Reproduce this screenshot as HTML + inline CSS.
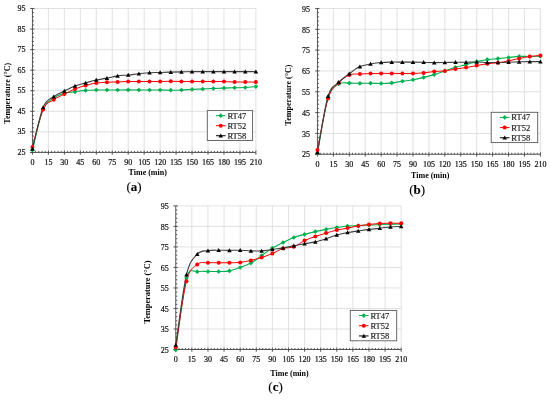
<!DOCTYPE html>
<html><head><meta charset="utf-8"><style>
html,body{margin:0;padding:0;background:#fff;}
svg{display:block;}
.tl{font-family:"Liberation Serif",serif;font-size:8px;fill:#111;stroke:#111;stroke-width:0.2px;}
.tt{font-family:"Liberation Serif",serif;font-size:8px;font-weight:bold;fill:#000;}
.lg{font-family:"Liberation Serif",serif;font-size:8.5px;fill:#1a1a1a;stroke:#1a1a1a;stroke-width:0.15px;}
.cap{font-family:"Liberation Serif",serif;font-size:13px;fill:#000;stroke:#000;stroke-width:0.1px;}
</style></head><body>
<svg width="550" height="400" viewBox="0 0 550 400">
<rect width="550" height="400" fill="#fff"/>
<path d="M32.45,131.87H255.90 M32.45,111.31H255.90 M32.45,90.74H255.90 M32.45,70.17H255.90 M32.45,49.60H255.90 M32.45,29.04H255.90 M32.45,8.47H255.90 M48.41,8.47V152.44 M64.37,8.47V152.44 M80.33,8.47V152.44 M96.29,8.47V152.44 M112.25,8.47V152.44 M128.21,8.47V152.44 M144.17,8.47V152.44 M160.14,8.47V152.44 M176.10,8.47V152.44 M192.06,8.47V152.44 M208.02,8.47V152.44 M223.98,8.47V152.44 M239.94,8.47V152.44 M255.90,8.47V152.44" stroke="#d9d9d9" stroke-width="0.8" fill="none"/>
<path d="M32.45,8.47V152.44 M30.15,152.44H255.90 M30.15,152.44H34.45 M30.15,131.87H34.45 M30.15,111.31H34.45 M30.15,90.74H34.45 M30.15,70.17H34.45 M30.15,49.60H34.45 M30.15,29.04H34.45 M30.15,8.47H34.45 M32.45,148.33H33.95 M32.45,144.21H33.95 M32.45,140.10H33.95 M32.45,135.99H33.95 M32.45,127.76H33.95 M32.45,123.65H33.95 M32.45,119.53H33.95 M32.45,115.42H33.95 M32.45,107.19H33.95 M32.45,103.08H33.95 M32.45,98.97H33.95 M32.45,94.85H33.95 M32.45,86.63H33.95 M32.45,82.51H33.95 M32.45,78.40H33.95 M32.45,74.28H33.95 M32.45,66.06H33.95 M32.45,61.94H33.95 M32.45,57.83H33.95 M32.45,53.72H33.95 M32.45,45.49H33.95 M32.45,41.38H33.95 M32.45,37.26H33.95 M32.45,33.15H33.95 M32.45,24.92H33.95 M32.45,20.81H33.95 M32.45,16.70H33.95 M32.45,12.58H33.95 M32.45,150.44V154.74 M48.41,150.44V154.74 M64.37,150.44V154.74 M80.33,150.44V154.74 M96.29,150.44V154.74 M112.25,150.44V154.74 M128.21,150.44V154.74 M144.17,150.44V154.74 M160.14,150.44V154.74 M176.10,150.44V154.74 M192.06,150.44V154.74 M208.02,150.44V154.74 M223.98,150.44V154.74 M239.94,150.44V154.74 M255.90,150.44V154.74 M35.64,152.44V150.94 M38.83,152.44V150.94 M42.03,152.44V150.94 M45.22,152.44V150.94 M51.60,152.44V150.94 M54.80,152.44V150.94 M57.99,152.44V150.94 M61.18,152.44V150.94 M67.56,152.44V150.94 M70.76,152.44V150.94 M73.95,152.44V150.94 M77.14,152.44V150.94 M83.52,152.44V150.94 M86.72,152.44V150.94 M89.91,152.44V150.94 M93.10,152.44V150.94 M99.48,152.44V150.94 M102.68,152.44V150.94 M105.87,152.44V150.94 M109.06,152.44V150.94 M115.45,152.44V150.94 M118.64,152.44V150.94 M121.83,152.44V150.94 M125.02,152.44V150.94 M131.41,152.44V150.94 M134.60,152.44V150.94 M137.79,152.44V150.94 M140.98,152.44V150.94 M147.37,152.44V150.94 M150.56,152.44V150.94 M153.75,152.44V150.94 M156.94,152.44V150.94 M163.33,152.44V150.94 M166.52,152.44V150.94 M169.71,152.44V150.94 M172.90,152.44V150.94 M179.29,152.44V150.94 M182.48,152.44V150.94 M185.67,152.44V150.94 M188.87,152.44V150.94 M195.25,152.44V150.94 M198.44,152.44V150.94 M201.63,152.44V150.94 M204.83,152.44V150.94 M211.21,152.44V150.94 M214.40,152.44V150.94 M217.59,152.44V150.94 M220.79,152.44V150.94 M227.17,152.44V150.94 M230.36,152.44V150.94 M233.55,152.44V150.94 M236.75,152.44V150.94 M243.13,152.44V150.94 M246.32,152.44V150.94 M249.52,152.44V150.94 M252.71,152.44V150.94" stroke="#454545" stroke-width="0.9" fill="none"/>
<text x="25.55" y="154.94" class="tl" text-anchor="end">25</text>
<text x="25.55" y="134.37" class="tl" text-anchor="end">35</text>
<text x="25.55" y="113.81" class="tl" text-anchor="end">45</text>
<text x="25.55" y="93.24" class="tl" text-anchor="end">55</text>
<text x="25.55" y="72.67" class="tl" text-anchor="end">65</text>
<text x="25.55" y="52.10" class="tl" text-anchor="end">75</text>
<text x="25.55" y="31.54" class="tl" text-anchor="end">85</text>
<text x="25.55" y="10.97" class="tl" text-anchor="end">95</text>
<text x="32.45" y="165.24" class="tl" text-anchor="middle">0</text>
<text x="48.41" y="165.24" class="tl" text-anchor="middle">15</text>
<text x="64.37" y="165.24" class="tl" text-anchor="middle">30</text>
<text x="80.33" y="165.24" class="tl" text-anchor="middle">45</text>
<text x="96.29" y="165.24" class="tl" text-anchor="middle">60</text>
<text x="112.25" y="165.24" class="tl" text-anchor="middle">75</text>
<text x="128.21" y="165.24" class="tl" text-anchor="middle">90</text>
<text x="144.17" y="165.24" class="tl" text-anchor="middle">105</text>
<text x="160.14" y="165.24" class="tl" text-anchor="middle">120</text>
<text x="176.10" y="165.24" class="tl" text-anchor="middle">135</text>
<text x="192.06" y="165.24" class="tl" text-anchor="middle">150</text>
<text x="208.02" y="165.24" class="tl" text-anchor="middle">165</text>
<text x="223.98" y="165.24" class="tl" text-anchor="middle">180</text>
<text x="239.94" y="165.24" class="tl" text-anchor="middle">195</text>
<text x="255.90" y="165.24" class="tl" text-anchor="middle">210</text>
<text class="tt" text-anchor="middle" transform="translate(7.60,93.30) rotate(-90)" y="2.8" style="font-size:8px">Temperature (&#176;C)</text>
<text class="tt" text-anchor="middle" x="147.70" y="175.20">Time (min)</text>
<text class="cap" text-anchor="middle" x="134.00" y="190.80">(<tspan font-weight="bold">a</tspan>)</text>
<path d="M32.45,150.00 C34.22,143.23 39.54,118.07 43.09,109.40 C46.64,100.73 50.18,100.70 53.73,98.00 C57.28,95.30 60.82,94.23 64.37,93.20 C67.92,92.17 71.47,92.27 75.01,91.80 C78.56,91.33 82.11,90.70 85.65,90.40 C89.20,90.10 92.75,90.07 96.29,90.00 C99.84,89.93 103.39,90.00 106.93,90.00 C110.48,90.00 114.03,90.02 117.57,90.00 C121.12,89.98 124.67,89.90 128.21,89.90 C131.76,89.90 135.31,89.98 138.85,90.00 C142.40,90.02 145.95,90.00 149.50,90.00 C153.04,90.00 156.59,89.97 160.14,90.00 C163.68,90.03 167.23,90.20 170.78,90.20 C174.32,90.20 177.87,90.13 181.42,90.00 C184.96,89.87 188.51,89.57 192.06,89.40 C195.60,89.23 199.15,89.15 202.70,89.00 C206.24,88.85 209.79,88.65 213.34,88.50 C216.88,88.35 220.43,88.22 223.98,88.10 C227.53,87.97 231.07,87.85 234.62,87.75 C238.17,87.65 241.71,87.69 245.26,87.50 C248.81,87.31 254.13,86.75 255.90,86.60" stroke="#00b050" stroke-width="1.1" fill="none"/>
<path d="M32.45,147.10 C34.22,140.85 39.54,117.48 43.09,109.60 C46.64,101.72 50.18,102.38 53.73,99.80 C57.28,97.22 60.82,95.90 64.37,94.10 C67.92,92.30 71.47,90.45 75.01,89.00 C78.56,87.55 82.11,86.38 85.65,85.40 C89.20,84.42 92.75,83.62 96.29,83.10 C99.84,82.57 103.39,82.45 106.93,82.25 C110.48,82.05 114.03,82.03 117.57,81.90 C121.12,81.78 124.67,81.57 128.21,81.50 C131.76,81.43 135.31,81.50 138.85,81.50 C142.40,81.50 145.95,81.50 149.50,81.50 C153.04,81.50 156.59,81.54 160.14,81.50 C163.68,81.46 167.23,81.25 170.78,81.25 C174.32,81.25 177.87,81.44 181.42,81.50 C184.96,81.56 188.51,81.60 192.06,81.60 C195.60,81.60 199.15,81.52 202.70,81.50 C206.24,81.48 209.79,81.48 213.34,81.50 C216.88,81.52 220.43,81.52 223.98,81.60 C227.53,81.68 231.07,81.93 234.62,82.00 C238.17,82.07 241.71,81.98 245.26,82.00 C248.81,82.02 254.13,82.08 255.90,82.10" stroke="#ff0000" stroke-width="1" fill="none"/>
<path d="M32.45,148.90 C34.22,142.00 39.54,116.22 43.09,107.50 C46.64,98.78 50.18,99.35 53.73,96.60 C57.28,93.85 60.82,92.77 64.37,91.00 C67.92,89.23 71.47,87.35 75.01,86.00 C78.56,84.65 82.11,83.90 85.65,82.90 C89.20,81.90 92.75,80.80 96.29,80.00 C99.84,79.20 103.39,78.78 106.93,78.10 C110.48,77.42 114.03,76.42 117.57,75.90 C121.12,75.38 124.67,75.36 128.21,75.00 C131.76,74.64 135.31,74.12 138.85,73.75 C142.40,73.38 145.95,72.96 149.50,72.75 C153.04,72.54 156.59,72.61 160.14,72.50 C163.68,72.39 167.23,72.20 170.78,72.10 C174.32,72.00 177.87,71.98 181.42,71.90 C184.96,71.82 188.51,71.65 192.06,71.60 C195.60,71.55 199.15,71.60 202.70,71.60 C206.24,71.60 209.79,71.60 213.34,71.60 C216.88,71.60 220.43,71.60 223.98,71.60 C227.53,71.60 231.07,71.60 234.62,71.60 C238.17,71.60 241.71,71.60 245.26,71.60 C248.81,71.60 254.13,71.60 255.90,71.60" stroke="#404040" stroke-width="1.1" fill="none"/>
<path d="M32.45,147.65l2.35,2.35l-2.35,2.35l-2.35,-2.35z" fill="#00b050"/><path d="M43.09,107.05l2.35,2.35l-2.35,2.35l-2.35,-2.35z" fill="#00b050"/><path d="M53.73,95.65l2.35,2.35l-2.35,2.35l-2.35,-2.35z" fill="#00b050"/><path d="M64.37,90.85l2.35,2.35l-2.35,2.35l-2.35,-2.35z" fill="#00b050"/><path d="M75.01,89.45l2.35,2.35l-2.35,2.35l-2.35,-2.35z" fill="#00b050"/><path d="M85.65,88.05l2.35,2.35l-2.35,2.35l-2.35,-2.35z" fill="#00b050"/><path d="M96.29,87.65l2.35,2.35l-2.35,2.35l-2.35,-2.35z" fill="#00b050"/><path d="M106.93,87.65l2.35,2.35l-2.35,2.35l-2.35,-2.35z" fill="#00b050"/><path d="M117.57,87.65l2.35,2.35l-2.35,2.35l-2.35,-2.35z" fill="#00b050"/><path d="M128.21,87.55l2.35,2.35l-2.35,2.35l-2.35,-2.35z" fill="#00b050"/><path d="M138.85,87.65l2.35,2.35l-2.35,2.35l-2.35,-2.35z" fill="#00b050"/><path d="M149.50,87.65l2.35,2.35l-2.35,2.35l-2.35,-2.35z" fill="#00b050"/><path d="M160.14,87.65l2.35,2.35l-2.35,2.35l-2.35,-2.35z" fill="#00b050"/><path d="M170.78,87.85l2.35,2.35l-2.35,2.35l-2.35,-2.35z" fill="#00b050"/><path d="M181.42,87.65l2.35,2.35l-2.35,2.35l-2.35,-2.35z" fill="#00b050"/><path d="M192.06,87.05l2.35,2.35l-2.35,2.35l-2.35,-2.35z" fill="#00b050"/><path d="M202.70,86.65l2.35,2.35l-2.35,2.35l-2.35,-2.35z" fill="#00b050"/><path d="M213.34,86.15l2.35,2.35l-2.35,2.35l-2.35,-2.35z" fill="#00b050"/><path d="M223.98,85.75l2.35,2.35l-2.35,2.35l-2.35,-2.35z" fill="#00b050"/><path d="M234.62,85.40l2.35,2.35l-2.35,2.35l-2.35,-2.35z" fill="#00b050"/><path d="M245.26,85.15l2.35,2.35l-2.35,2.35l-2.35,-2.35z" fill="#00b050"/><path d="M255.90,84.25l2.35,2.35l-2.35,2.35l-2.35,-2.35z" fill="#00b050"/>
<circle cx="32.45" cy="147.10" r="2.0" fill="#ff0000"/><circle cx="43.09" cy="109.60" r="2.0" fill="#ff0000"/><circle cx="53.73" cy="99.80" r="2.0" fill="#ff0000"/><circle cx="64.37" cy="94.10" r="2.0" fill="#ff0000"/><circle cx="75.01" cy="89.00" r="2.0" fill="#ff0000"/><circle cx="85.65" cy="85.40" r="2.0" fill="#ff0000"/><circle cx="96.29" cy="83.10" r="2.0" fill="#ff0000"/><circle cx="106.93" cy="82.25" r="2.0" fill="#ff0000"/><circle cx="117.57" cy="81.90" r="2.0" fill="#ff0000"/><circle cx="128.21" cy="81.50" r="2.0" fill="#ff0000"/><circle cx="138.85" cy="81.50" r="2.0" fill="#ff0000"/><circle cx="149.50" cy="81.50" r="2.0" fill="#ff0000"/><circle cx="160.14" cy="81.50" r="2.0" fill="#ff0000"/><circle cx="170.78" cy="81.25" r="2.0" fill="#ff0000"/><circle cx="181.42" cy="81.50" r="2.0" fill="#ff0000"/><circle cx="192.06" cy="81.60" r="2.0" fill="#ff0000"/><circle cx="202.70" cy="81.50" r="2.0" fill="#ff0000"/><circle cx="213.34" cy="81.50" r="2.0" fill="#ff0000"/><circle cx="223.98" cy="81.60" r="2.0" fill="#ff0000"/><circle cx="234.62" cy="82.00" r="2.0" fill="#ff0000"/><circle cx="245.26" cy="82.00" r="2.0" fill="#ff0000"/><circle cx="255.90" cy="82.10" r="2.0" fill="#ff0000"/>
<path d="M32.45,146.70L34.70,150.70L30.20,150.70z" fill="#000"/><path d="M43.09,105.30L45.34,109.30L40.84,109.30z" fill="#000"/><path d="M53.73,94.40L55.98,98.40L51.48,98.40z" fill="#000"/><path d="M64.37,88.80L66.62,92.80L62.12,92.80z" fill="#000"/><path d="M75.01,83.80L77.26,87.80L72.76,87.80z" fill="#000"/><path d="M85.65,80.70L87.90,84.70L83.40,84.70z" fill="#000"/><path d="M96.29,77.80L98.54,81.80L94.04,81.80z" fill="#000"/><path d="M106.93,75.90L109.18,79.90L104.68,79.90z" fill="#000"/><path d="M117.57,73.70L119.82,77.70L115.32,77.70z" fill="#000"/><path d="M128.21,72.80L130.46,76.80L125.96,76.80z" fill="#000"/><path d="M138.85,71.55L141.10,75.55L136.60,75.55z" fill="#000"/><path d="M149.50,70.55L151.75,74.55L147.25,74.55z" fill="#000"/><path d="M160.14,70.30L162.39,74.30L157.89,74.30z" fill="#000"/><path d="M170.78,69.90L173.03,73.90L168.53,73.90z" fill="#000"/><path d="M181.42,69.70L183.67,73.70L179.17,73.70z" fill="#000"/><path d="M192.06,69.40L194.31,73.40L189.81,73.40z" fill="#000"/><path d="M202.70,69.40L204.95,73.40L200.45,73.40z" fill="#000"/><path d="M213.34,69.40L215.59,73.40L211.09,73.40z" fill="#000"/><path d="M223.98,69.40L226.23,73.40L221.73,73.40z" fill="#000"/><path d="M234.62,69.40L236.87,73.40L232.37,73.40z" fill="#000"/><path d="M245.26,69.40L247.51,73.40L243.01,73.40z" fill="#000"/><path d="M255.90,69.40L258.15,73.40L253.65,73.40z" fill="#000"/>
<rect x="207.30" y="110.60" width="45.30" height="29.90" fill="#fff" stroke="#595959" stroke-width="0.9"/>
<path d="M216.00,115.68H225.60" stroke="#00b050" stroke-width="1"/>
<path d="M220.80,113.33l2.35,2.35l-2.35,2.35l-2.35,-2.35z" fill="#00b050"/>
<text class="lg" x="227.40" y="118.68">RT47</text>
<path d="M216.00,125.70H225.60" stroke="#ff0000" stroke-width="1"/>
<circle cx="220.80" cy="125.70" r="2.0" fill="#ff0000"/>
<text class="lg" x="227.40" y="128.70">RT52</text>
<path d="M216.00,135.72H225.60" stroke="#000000" stroke-width="1"/>
<path d="M220.80,133.52L223.05,137.52L218.55,137.52z" fill="#000"/>
<text class="lg" x="227.40" y="138.72">RT58</text>
<path d="M317.45,133.44H540.40 M317.45,112.61H540.40 M317.45,91.78H540.40 M317.45,70.96H540.40 M317.45,50.13H540.40 M317.45,29.30H540.40 M317.45,8.47H540.40 M333.38,8.47V154.27 M349.30,8.47V154.27 M365.22,8.47V154.27 M381.15,8.47V154.27 M397.07,8.47V154.27 M413.00,8.47V154.27 M428.92,8.47V154.27 M444.85,8.47V154.27 M460.77,8.47V154.27 M476.70,8.47V154.27 M492.62,8.47V154.27 M508.55,8.47V154.27 M524.47,8.47V154.27 M540.40,8.47V154.27" stroke="#d9d9d9" stroke-width="0.8" fill="none"/>
<path d="M317.45,8.47V154.27 M315.15,154.27H540.40 M315.15,154.27H319.45 M315.15,133.44H319.45 M315.15,112.61H319.45 M315.15,91.78H319.45 M315.15,70.96H319.45 M315.15,50.13H319.45 M315.15,29.30H319.45 M315.15,8.47H319.45 M317.45,150.10H318.95 M317.45,145.94H318.95 M317.45,141.77H318.95 M317.45,137.61H318.95 M317.45,129.28H318.95 M317.45,125.11H318.95 M317.45,120.94H318.95 M317.45,116.78H318.95 M317.45,108.45H318.95 M317.45,104.28H318.95 M317.45,100.12H318.95 M317.45,95.95H318.95 M317.45,87.62H318.95 M317.45,83.45H318.95 M317.45,79.29H318.95 M317.45,75.12H318.95 M317.45,66.79H318.95 M317.45,62.62H318.95 M317.45,58.46H318.95 M317.45,54.29H318.95 M317.45,45.96H318.95 M317.45,41.80H318.95 M317.45,37.63H318.95 M317.45,33.46H318.95 M317.45,25.13H318.95 M317.45,20.97H318.95 M317.45,16.80H318.95 M317.45,12.64H318.95 M317.45,152.27V156.57 M333.38,152.27V156.57 M349.30,152.27V156.57 M365.22,152.27V156.57 M381.15,152.27V156.57 M397.07,152.27V156.57 M413.00,152.27V156.57 M428.92,152.27V156.57 M444.85,152.27V156.57 M460.77,152.27V156.57 M476.70,152.27V156.57 M492.62,152.27V156.57 M508.55,152.27V156.57 M524.47,152.27V156.57 M540.40,152.27V156.57 M320.63,154.27V152.77 M323.82,154.27V152.77 M327.00,154.27V152.77 M330.19,154.27V152.77 M336.56,154.27V152.77 M339.75,154.27V152.77 M342.93,154.27V152.77 M346.12,154.27V152.77 M352.49,154.27V152.77 M355.67,154.27V152.77 M358.85,154.27V152.77 M362.04,154.27V152.77 M368.41,154.27V152.77 M371.59,154.27V152.77 M374.78,154.27V152.77 M377.96,154.27V152.77 M384.33,154.27V152.77 M387.52,154.27V152.77 M390.70,154.27V152.77 M393.89,154.27V152.77 M400.26,154.27V152.77 M403.44,154.27V152.77 M406.63,154.27V152.77 M409.81,154.27V152.77 M416.18,154.27V152.77 M419.37,154.27V152.77 M422.55,154.27V152.77 M425.74,154.27V152.77 M432.11,154.27V152.77 M435.29,154.27V152.77 M438.48,154.27V152.77 M441.66,154.27V152.77 M448.03,154.27V152.77 M451.22,154.27V152.77 M454.40,154.27V152.77 M457.59,154.27V152.77 M463.96,154.27V152.77 M467.14,154.27V152.77 M470.33,154.27V152.77 M473.51,154.27V152.77 M479.88,154.27V152.77 M483.07,154.27V152.77 M486.25,154.27V152.77 M489.44,154.27V152.77 M495.81,154.27V152.77 M499.00,154.27V152.77 M502.18,154.27V152.77 M505.36,154.27V152.77 M511.73,154.27V152.77 M514.92,154.27V152.77 M518.11,154.27V152.77 M521.29,154.27V152.77 M527.66,154.27V152.77 M530.85,154.27V152.77 M534.03,154.27V152.77 M537.21,154.27V152.77" stroke="#454545" stroke-width="0.9" fill="none"/>
<text x="310.05" y="157.47" class="tl" text-anchor="end">25</text>
<text x="310.05" y="136.64" class="tl" text-anchor="end">35</text>
<text x="310.05" y="115.81" class="tl" text-anchor="end">45</text>
<text x="310.05" y="94.98" class="tl" text-anchor="end">55</text>
<text x="310.05" y="74.16" class="tl" text-anchor="end">65</text>
<text x="310.05" y="53.33" class="tl" text-anchor="end">75</text>
<text x="310.05" y="32.50" class="tl" text-anchor="end">85</text>
<text x="310.05" y="11.67" class="tl" text-anchor="end">95</text>
<text x="317.45" y="167.07" class="tl" text-anchor="middle">0</text>
<text x="333.38" y="167.07" class="tl" text-anchor="middle">15</text>
<text x="349.30" y="167.07" class="tl" text-anchor="middle">30</text>
<text x="365.22" y="167.07" class="tl" text-anchor="middle">45</text>
<text x="381.15" y="167.07" class="tl" text-anchor="middle">60</text>
<text x="397.07" y="167.07" class="tl" text-anchor="middle">75</text>
<text x="413.00" y="167.07" class="tl" text-anchor="middle">90</text>
<text x="428.92" y="167.07" class="tl" text-anchor="middle">105</text>
<text x="444.85" y="167.07" class="tl" text-anchor="middle">120</text>
<text x="460.77" y="167.07" class="tl" text-anchor="middle">135</text>
<text x="476.70" y="167.07" class="tl" text-anchor="middle">150</text>
<text x="492.62" y="167.07" class="tl" text-anchor="middle">165</text>
<text x="508.55" y="167.07" class="tl" text-anchor="middle">180</text>
<text x="524.47" y="167.07" class="tl" text-anchor="middle">195</text>
<text x="540.40" y="167.07" class="tl" text-anchor="middle">210</text>
<text class="tt" text-anchor="middle" transform="translate(288.40,95.00) rotate(-90)" y="2.8" style="font-size:8px">Temperature (&#176;C)</text>
<text class="tt" text-anchor="middle" x="430.20" y="177.60">Time (min)</text>
<text class="cap" text-anchor="middle" x="417.20" y="194.40">(<tspan font-weight="bold">b</tspan>)</text>
<path d="M317.45,153.00 C319.22,143.75 324.53,109.00 328.07,97.50 C331.61,86.00 335.14,86.40 338.68,84.00 C342.22,81.60 345.76,83.20 349.30,83.10 C352.84,83.00 356.38,83.38 359.92,83.40 C363.46,83.42 366.99,83.18 370.53,83.20 C374.07,83.22 377.61,83.55 381.15,83.50 C384.69,83.45 388.23,83.28 391.77,82.90 C395.31,82.53 398.84,81.78 402.38,81.25 C405.92,80.72 409.46,80.39 413.00,79.75 C416.54,79.11 420.08,78.26 423.62,77.40 C427.16,76.54 430.69,75.68 434.23,74.60 C437.77,73.52 441.31,72.12 444.85,70.90 C448.39,69.68 451.93,68.30 455.47,67.25 C459.01,66.20 462.54,65.54 466.08,64.60 C469.62,63.66 473.16,62.43 476.70,61.60 C480.24,60.77 483.78,60.10 487.32,59.60 C490.86,59.10 494.39,58.95 497.93,58.60 C501.47,58.25 505.01,57.87 508.55,57.50 C512.09,57.13 515.63,56.57 519.17,56.40 C522.71,56.23 526.24,56.52 529.78,56.50 C533.32,56.48 538.63,56.29 540.40,56.25" stroke="#00b050" stroke-width="1.1" fill="none"/>
<path d="M317.45,150.10 C319.22,141.50 324.53,109.67 328.07,98.50 C331.61,87.33 335.14,87.02 338.68,83.10 C342.22,79.18 345.76,76.52 349.30,75.00 C352.84,73.48 356.38,74.23 359.92,74.00 C363.46,73.77 366.99,73.70 370.53,73.60 C374.07,73.50 377.61,73.43 381.15,73.40 C384.69,73.37 388.23,73.38 391.77,73.40 C395.31,73.42 398.84,73.50 402.38,73.50 C405.92,73.50 409.46,73.50 413.00,73.40 C416.54,73.30 420.08,73.22 423.62,72.90 C427.16,72.58 430.69,71.83 434.23,71.50 C437.77,71.17 441.31,71.32 444.85,70.90 C448.39,70.48 451.93,69.55 455.47,69.00 C459.01,68.45 462.54,68.17 466.08,67.60 C469.62,67.03 473.16,66.25 476.70,65.60 C480.24,64.95 483.78,64.17 487.32,63.70 C490.86,63.23 494.39,63.27 497.93,62.80 C501.47,62.33 505.01,61.62 508.55,60.90 C512.09,60.18 515.63,59.23 519.17,58.50 C522.71,57.77 526.24,57.02 529.78,56.50 C533.32,55.98 538.63,55.58 540.40,55.40" stroke="#ff0000" stroke-width="1" fill="none"/>
<path d="M317.45,152.50 C319.22,143.12 324.53,107.96 328.07,96.25 C331.61,84.54 335.14,86.00 338.68,82.25 C342.22,78.50 345.76,76.36 349.30,73.75 C352.84,71.14 356.38,68.22 359.92,66.60 C363.46,64.97 366.99,64.68 370.53,64.00 C374.07,63.32 377.61,62.82 381.15,62.50 C384.69,62.18 388.23,62.17 391.77,62.10 C395.31,62.03 398.84,62.10 402.38,62.10 C405.92,62.10 409.46,62.07 413.00,62.10 C416.54,62.13 420.08,62.22 423.62,62.30 C427.16,62.38 430.69,62.57 434.23,62.60 C437.77,62.63 441.31,62.55 444.85,62.50 C448.39,62.45 451.93,62.35 455.47,62.30 C459.01,62.25 462.54,62.25 466.08,62.20 C469.62,62.15 473.16,61.95 476.70,62.00 C480.24,62.05 483.78,62.42 487.32,62.50 C490.86,62.58 494.39,62.54 497.93,62.50 C501.47,62.46 505.01,62.35 508.55,62.25 C512.09,62.15 515.63,62.01 519.17,61.90 C522.71,61.79 526.24,61.65 529.78,61.60 C533.32,61.55 538.63,61.60 540.40,61.60" stroke="#404040" stroke-width="1.1" fill="none"/>
<path d="M317.45,150.65l2.35,2.35l-2.35,2.35l-2.35,-2.35z" fill="#00b050"/><path d="M328.07,95.15l2.35,2.35l-2.35,2.35l-2.35,-2.35z" fill="#00b050"/><path d="M338.68,81.65l2.35,2.35l-2.35,2.35l-2.35,-2.35z" fill="#00b050"/><path d="M349.30,80.75l2.35,2.35l-2.35,2.35l-2.35,-2.35z" fill="#00b050"/><path d="M359.92,81.05l2.35,2.35l-2.35,2.35l-2.35,-2.35z" fill="#00b050"/><path d="M370.53,80.85l2.35,2.35l-2.35,2.35l-2.35,-2.35z" fill="#00b050"/><path d="M381.15,81.15l2.35,2.35l-2.35,2.35l-2.35,-2.35z" fill="#00b050"/><path d="M391.77,80.55l2.35,2.35l-2.35,2.35l-2.35,-2.35z" fill="#00b050"/><path d="M402.38,78.90l2.35,2.35l-2.35,2.35l-2.35,-2.35z" fill="#00b050"/><path d="M413.00,77.40l2.35,2.35l-2.35,2.35l-2.35,-2.35z" fill="#00b050"/><path d="M423.62,75.05l2.35,2.35l-2.35,2.35l-2.35,-2.35z" fill="#00b050"/><path d="M434.23,72.25l2.35,2.35l-2.35,2.35l-2.35,-2.35z" fill="#00b050"/><path d="M444.85,68.55l2.35,2.35l-2.35,2.35l-2.35,-2.35z" fill="#00b050"/><path d="M455.47,64.90l2.35,2.35l-2.35,2.35l-2.35,-2.35z" fill="#00b050"/><path d="M466.08,62.25l2.35,2.35l-2.35,2.35l-2.35,-2.35z" fill="#00b050"/><path d="M476.70,59.25l2.35,2.35l-2.35,2.35l-2.35,-2.35z" fill="#00b050"/><path d="M487.32,57.25l2.35,2.35l-2.35,2.35l-2.35,-2.35z" fill="#00b050"/><path d="M497.93,56.25l2.35,2.35l-2.35,2.35l-2.35,-2.35z" fill="#00b050"/><path d="M508.55,55.15l2.35,2.35l-2.35,2.35l-2.35,-2.35z" fill="#00b050"/><path d="M519.17,54.05l2.35,2.35l-2.35,2.35l-2.35,-2.35z" fill="#00b050"/><path d="M529.78,54.15l2.35,2.35l-2.35,2.35l-2.35,-2.35z" fill="#00b050"/><path d="M540.40,53.90l2.35,2.35l-2.35,2.35l-2.35,-2.35z" fill="#00b050"/>
<circle cx="317.45" cy="150.10" r="2.0" fill="#ff0000"/><circle cx="328.07" cy="98.50" r="2.0" fill="#ff0000"/><circle cx="338.68" cy="83.10" r="2.0" fill="#ff0000"/><circle cx="349.30" cy="75.00" r="2.0" fill="#ff0000"/><circle cx="359.92" cy="74.00" r="2.0" fill="#ff0000"/><circle cx="370.53" cy="73.60" r="2.0" fill="#ff0000"/><circle cx="381.15" cy="73.40" r="2.0" fill="#ff0000"/><circle cx="391.77" cy="73.40" r="2.0" fill="#ff0000"/><circle cx="402.38" cy="73.50" r="2.0" fill="#ff0000"/><circle cx="413.00" cy="73.40" r="2.0" fill="#ff0000"/><circle cx="423.62" cy="72.90" r="2.0" fill="#ff0000"/><circle cx="434.23" cy="71.50" r="2.0" fill="#ff0000"/><circle cx="444.85" cy="70.90" r="2.0" fill="#ff0000"/><circle cx="455.47" cy="69.00" r="2.0" fill="#ff0000"/><circle cx="466.08" cy="67.60" r="2.0" fill="#ff0000"/><circle cx="476.70" cy="65.60" r="2.0" fill="#ff0000"/><circle cx="487.32" cy="63.70" r="2.0" fill="#ff0000"/><circle cx="497.93" cy="62.80" r="2.0" fill="#ff0000"/><circle cx="508.55" cy="60.90" r="2.0" fill="#ff0000"/><circle cx="519.17" cy="58.50" r="2.0" fill="#ff0000"/><circle cx="529.78" cy="56.50" r="2.0" fill="#ff0000"/><circle cx="540.40" cy="55.40" r="2.0" fill="#ff0000"/>
<path d="M317.45,150.30L319.70,154.30L315.20,154.30z" fill="#000"/><path d="M328.07,94.05L330.32,98.05L325.82,98.05z" fill="#000"/><path d="M338.68,80.05L340.93,84.05L336.43,84.05z" fill="#000"/><path d="M349.30,71.55L351.55,75.55L347.05,75.55z" fill="#000"/><path d="M359.92,64.40L362.17,68.40L357.67,68.40z" fill="#000"/><path d="M370.53,61.80L372.78,65.80L368.28,65.80z" fill="#000"/><path d="M381.15,60.30L383.40,64.30L378.90,64.30z" fill="#000"/><path d="M391.77,59.90L394.02,63.90L389.52,63.90z" fill="#000"/><path d="M402.38,59.90L404.63,63.90L400.13,63.90z" fill="#000"/><path d="M413.00,59.90L415.25,63.90L410.75,63.90z" fill="#000"/><path d="M423.62,60.10L425.87,64.10L421.37,64.10z" fill="#000"/><path d="M434.23,60.40L436.48,64.40L431.98,64.40z" fill="#000"/><path d="M444.85,60.30L447.10,64.30L442.60,64.30z" fill="#000"/><path d="M455.47,60.10L457.72,64.10L453.22,64.10z" fill="#000"/><path d="M466.08,60.00L468.33,64.00L463.83,64.00z" fill="#000"/><path d="M476.70,59.80L478.95,63.80L474.45,63.80z" fill="#000"/><path d="M487.32,60.30L489.57,64.30L485.07,64.30z" fill="#000"/><path d="M497.93,60.30L500.18,64.30L495.68,64.30z" fill="#000"/><path d="M508.55,60.05L510.80,64.05L506.30,64.05z" fill="#000"/><path d="M519.17,59.70L521.42,63.70L516.92,63.70z" fill="#000"/><path d="M529.78,59.40L532.03,63.40L527.53,63.40z" fill="#000"/><path d="M540.40,59.40L542.65,63.40L538.15,63.40z" fill="#000"/>
<rect x="491.20" y="112.30" width="46.50" height="30.30" fill="#fff" stroke="#595959" stroke-width="0.9"/>
<path d="M499.90,117.45H509.50" stroke="#00b050" stroke-width="1"/>
<path d="M504.70,115.10l2.35,2.35l-2.35,2.35l-2.35,-2.35z" fill="#00b050"/>
<text class="lg" x="511.30" y="120.45">RT47</text>
<path d="M499.90,127.60H509.50" stroke="#ff0000" stroke-width="1"/>
<circle cx="504.70" cy="127.60" r="2.0" fill="#ff0000"/>
<text class="lg" x="511.30" y="130.60">RT52</text>
<path d="M499.90,137.75H509.50" stroke="#000000" stroke-width="1"/>
<path d="M504.70,135.55L506.95,139.55L502.45,139.55z" fill="#000"/>
<text class="lg" x="511.30" y="140.75">RT58</text>
<path d="M175.75,328.99H401.20 M175.75,308.47H401.20 M175.75,287.96H401.20 M175.75,267.44H401.20 M175.75,246.93H401.20 M175.75,226.41H401.20 M175.75,205.90H401.20 M191.85,205.90V349.50 M207.96,205.90V349.50 M224.06,205.90V349.50 M240.16,205.90V349.50 M256.27,205.90V349.50 M272.37,205.90V349.50 M288.48,205.90V349.50 M304.58,205.90V349.50 M320.68,205.90V349.50 M336.79,205.90V349.50 M352.89,205.90V349.50 M368.99,205.90V349.50 M385.10,205.90V349.50 M401.20,205.90V349.50" stroke="#d9d9d9" stroke-width="0.8" fill="none"/>
<path d="M175.75,205.90V349.50 M173.45,349.50H401.20 M173.45,349.50H177.75 M173.45,328.99H177.75 M173.45,308.47H177.75 M173.45,287.96H177.75 M173.45,267.44H177.75 M173.45,246.93H177.75 M173.45,226.41H177.75 M173.45,205.90H177.75 M175.75,345.40H177.25 M175.75,341.29H177.25 M175.75,337.19H177.25 M175.75,333.09H177.25 M175.75,324.88H177.25 M175.75,320.78H177.25 M175.75,316.68H177.25 M175.75,312.57H177.25 M175.75,304.37H177.25 M175.75,300.27H177.25 M175.75,296.16H177.25 M175.75,292.06H177.25 M175.75,283.85H177.25 M175.75,279.75H177.25 M175.75,275.65H177.25 M175.75,271.55H177.25 M175.75,263.34H177.25 M175.75,259.24H177.25 M175.75,255.13H177.25 M175.75,251.03H177.25 M175.75,242.83H177.25 M175.75,238.72H177.25 M175.75,234.62H177.25 M175.75,230.52H177.25 M175.75,222.31H177.25 M175.75,218.21H177.25 M175.75,214.11H177.25 M175.75,210.00H177.25 M175.75,347.50V351.80 M191.85,347.50V351.80 M207.96,347.50V351.80 M224.06,347.50V351.80 M240.16,347.50V351.80 M256.27,347.50V351.80 M272.37,347.50V351.80 M288.48,347.50V351.80 M304.58,347.50V351.80 M320.68,347.50V351.80 M336.79,347.50V351.80 M352.89,347.50V351.80 M368.99,347.50V351.80 M385.10,347.50V351.80 M401.20,347.50V351.80 M178.97,349.50V348.00 M182.19,349.50V348.00 M185.41,349.50V348.00 M188.63,349.50V348.00 M195.07,349.50V348.00 M198.30,349.50V348.00 M201.52,349.50V348.00 M204.74,349.50V348.00 M211.18,349.50V348.00 M214.40,349.50V348.00 M217.62,349.50V348.00 M220.84,349.50V348.00 M227.28,349.50V348.00 M230.50,349.50V348.00 M233.72,349.50V348.00 M236.94,349.50V348.00 M243.38,349.50V348.00 M246.61,349.50V348.00 M249.83,349.50V348.00 M253.05,349.50V348.00 M259.49,349.50V348.00 M262.71,349.50V348.00 M265.93,349.50V348.00 M269.15,349.50V348.00 M275.59,349.50V348.00 M278.81,349.50V348.00 M282.03,349.50V348.00 M285.25,349.50V348.00 M291.70,349.50V348.00 M294.92,349.50V348.00 M298.14,349.50V348.00 M301.36,349.50V348.00 M307.80,349.50V348.00 M311.02,349.50V348.00 M314.24,349.50V348.00 M317.46,349.50V348.00 M323.90,349.50V348.00 M327.12,349.50V348.00 M330.34,349.50V348.00 M333.56,349.50V348.00 M340.01,349.50V348.00 M343.23,349.50V348.00 M346.45,349.50V348.00 M349.67,349.50V348.00 M356.11,349.50V348.00 M359.33,349.50V348.00 M362.55,349.50V348.00 M365.77,349.50V348.00 M372.21,349.50V348.00 M375.43,349.50V348.00 M378.65,349.50V348.00 M381.88,349.50V348.00 M388.32,349.50V348.00 M391.54,349.50V348.00 M394.76,349.50V348.00 M397.98,349.50V348.00" stroke="#454545" stroke-width="0.9" fill="none"/>
<text x="168.65" y="352.70" class="tl" text-anchor="end">25</text>
<text x="168.65" y="332.19" class="tl" text-anchor="end">35</text>
<text x="168.65" y="311.67" class="tl" text-anchor="end">45</text>
<text x="168.65" y="291.16" class="tl" text-anchor="end">55</text>
<text x="168.65" y="270.64" class="tl" text-anchor="end">65</text>
<text x="168.65" y="250.13" class="tl" text-anchor="end">75</text>
<text x="168.65" y="229.61" class="tl" text-anchor="end">85</text>
<text x="168.65" y="209.10" class="tl" text-anchor="end">95</text>
<text x="175.75" y="362.30" class="tl" text-anchor="middle">0</text>
<text x="191.85" y="362.30" class="tl" text-anchor="middle">15</text>
<text x="207.96" y="362.30" class="tl" text-anchor="middle">30</text>
<text x="224.06" y="362.30" class="tl" text-anchor="middle">45</text>
<text x="240.16" y="362.30" class="tl" text-anchor="middle">60</text>
<text x="256.27" y="362.30" class="tl" text-anchor="middle">75</text>
<text x="272.37" y="362.30" class="tl" text-anchor="middle">90</text>
<text x="288.48" y="362.30" class="tl" text-anchor="middle">105</text>
<text x="304.58" y="362.30" class="tl" text-anchor="middle">120</text>
<text x="320.68" y="362.30" class="tl" text-anchor="middle">135</text>
<text x="336.79" y="362.30" class="tl" text-anchor="middle">150</text>
<text x="352.89" y="362.30" class="tl" text-anchor="middle">165</text>
<text x="368.99" y="362.30" class="tl" text-anchor="middle">180</text>
<text x="385.10" y="362.30" class="tl" text-anchor="middle">195</text>
<text x="401.20" y="362.30" class="tl" text-anchor="middle">210</text>
<text class="tt" text-anchor="middle" transform="translate(147.00,292.10) rotate(-90)" y="2.8" style="font-size:8.3px">Temperature (&#176;C)</text>
<text class="tt" text-anchor="middle" x="289.50" y="375.60">Time (min)</text>
<text class="cap" text-anchor="middle" x="275.60" y="390.80">(<tspan font-weight="bold">c</tspan>)</text>
<path d="M175.75,349.90 C177.54,337.93 182.91,291.13 186.49,278.10 C190.06,265.07 193.64,272.80 197.22,271.70 C200.80,270.60 204.38,271.53 207.96,271.50 C211.54,271.47 215.11,271.60 218.69,271.50 C222.27,271.40 225.85,271.57 229.43,270.90 C233.01,270.23 236.59,268.80 240.16,267.50 C243.74,266.20 247.32,265.08 250.90,263.10 C254.48,261.12 258.06,258.10 261.64,255.60 C265.21,253.10 268.79,250.28 272.37,248.10 C275.95,245.92 279.53,244.27 283.11,242.50 C286.69,240.73 290.26,238.85 293.84,237.50 C297.42,236.15 301.00,235.38 304.58,234.40 C308.16,233.42 311.74,232.43 315.31,231.60 C318.89,230.77 322.47,230.08 326.05,229.40 C329.63,228.72 333.21,228.07 336.79,227.50 C340.36,226.93 343.94,226.32 347.52,226.00 C351.10,225.68 354.68,225.77 358.26,225.60 C361.84,225.43 365.41,225.17 368.99,225.00 C372.57,224.83 376.15,224.73 379.73,224.60 C383.31,224.47 386.89,224.30 390.46,224.20 C394.04,224.10 399.41,224.03 401.20,224.00" stroke="#00b050" stroke-width="1.1" fill="none"/>
<path d="M175.75,347.40 C177.54,336.38 182.91,295.08 186.49,281.25 C190.06,267.42 193.64,267.47 197.22,264.40 C200.80,261.32 204.38,263.07 207.96,262.80 C211.54,262.53 215.11,262.81 218.69,262.80 C222.27,262.79 225.85,262.82 229.43,262.75 C233.01,262.68 236.59,262.79 240.16,262.40 C243.74,262.01 247.32,261.22 250.90,260.40 C254.48,259.58 258.06,258.65 261.64,257.50 C265.21,256.35 268.79,255.00 272.37,253.50 C275.95,252.00 279.53,249.62 283.11,248.50 C286.69,247.38 290.26,248.12 293.84,246.80 C297.42,245.48 301.00,242.32 304.58,240.60 C308.16,238.88 311.74,237.75 315.31,236.50 C318.89,235.25 322.47,234.17 326.05,233.10 C329.63,232.03 333.21,230.93 336.79,230.10 C340.36,229.27 343.94,228.80 347.52,228.10 C351.10,227.40 354.68,226.52 358.26,225.90 C361.84,225.28 365.41,224.80 368.99,224.40 C372.57,224.00 376.15,223.70 379.73,223.50 C383.31,223.30 386.89,223.23 390.46,223.20 C394.04,223.17 399.41,223.28 401.20,223.30" stroke="#ff0000" stroke-width="1" fill="none"/>
<path d="M175.75,345.00 C177.54,333.28 182.91,289.83 186.49,274.70 C190.06,259.57 193.64,258.22 197.22,254.20 C200.80,250.18 204.38,251.27 207.96,250.60 C211.54,249.93 215.11,250.23 218.69,250.20 C222.27,250.17 225.85,250.40 229.43,250.40 C233.01,250.40 236.59,250.12 240.16,250.20 C243.74,250.28 247.32,250.78 250.90,250.90 C254.48,251.02 258.06,251.15 261.64,250.90 C265.21,250.65 268.79,249.90 272.37,249.40 C275.95,248.90 279.53,248.50 283.11,247.90 C286.69,247.30 290.26,246.49 293.84,245.80 C297.42,245.11 301.00,244.40 304.58,243.75 C308.16,243.10 311.74,242.73 315.31,241.90 C318.89,241.07 322.47,239.90 326.05,238.75 C329.63,237.60 333.21,236.04 336.79,235.00 C340.36,233.96 343.94,233.18 347.52,232.50 C351.10,231.82 354.68,231.42 358.26,230.90 C361.84,230.38 365.41,229.85 368.99,229.40 C372.57,228.95 376.15,228.60 379.73,228.20 C383.31,227.80 386.89,227.28 390.46,227.00 C394.04,226.72 399.41,226.58 401.20,226.50" stroke="#404040" stroke-width="1.1" fill="none"/>
<path d="M175.75,347.55l2.35,2.35l-2.35,2.35l-2.35,-2.35z" fill="#00b050"/><path d="M186.49,275.75l2.35,2.35l-2.35,2.35l-2.35,-2.35z" fill="#00b050"/><path d="M197.22,269.35l2.35,2.35l-2.35,2.35l-2.35,-2.35z" fill="#00b050"/><path d="M207.96,269.15l2.35,2.35l-2.35,2.35l-2.35,-2.35z" fill="#00b050"/><path d="M218.69,269.15l2.35,2.35l-2.35,2.35l-2.35,-2.35z" fill="#00b050"/><path d="M229.43,268.55l2.35,2.35l-2.35,2.35l-2.35,-2.35z" fill="#00b050"/><path d="M240.16,265.15l2.35,2.35l-2.35,2.35l-2.35,-2.35z" fill="#00b050"/><path d="M250.90,260.75l2.35,2.35l-2.35,2.35l-2.35,-2.35z" fill="#00b050"/><path d="M261.64,253.25l2.35,2.35l-2.35,2.35l-2.35,-2.35z" fill="#00b050"/><path d="M272.37,245.75l2.35,2.35l-2.35,2.35l-2.35,-2.35z" fill="#00b050"/><path d="M283.11,240.15l2.35,2.35l-2.35,2.35l-2.35,-2.35z" fill="#00b050"/><path d="M293.84,235.15l2.35,2.35l-2.35,2.35l-2.35,-2.35z" fill="#00b050"/><path d="M304.58,232.05l2.35,2.35l-2.35,2.35l-2.35,-2.35z" fill="#00b050"/><path d="M315.31,229.25l2.35,2.35l-2.35,2.35l-2.35,-2.35z" fill="#00b050"/><path d="M326.05,227.05l2.35,2.35l-2.35,2.35l-2.35,-2.35z" fill="#00b050"/><path d="M336.79,225.15l2.35,2.35l-2.35,2.35l-2.35,-2.35z" fill="#00b050"/><path d="M347.52,223.65l2.35,2.35l-2.35,2.35l-2.35,-2.35z" fill="#00b050"/><path d="M358.26,223.25l2.35,2.35l-2.35,2.35l-2.35,-2.35z" fill="#00b050"/><path d="M368.99,222.65l2.35,2.35l-2.35,2.35l-2.35,-2.35z" fill="#00b050"/><path d="M379.73,222.25l2.35,2.35l-2.35,2.35l-2.35,-2.35z" fill="#00b050"/><path d="M390.46,221.85l2.35,2.35l-2.35,2.35l-2.35,-2.35z" fill="#00b050"/><path d="M401.20,221.65l2.35,2.35l-2.35,2.35l-2.35,-2.35z" fill="#00b050"/>
<circle cx="175.75" cy="347.40" r="2.0" fill="#ff0000"/><circle cx="186.49" cy="281.25" r="2.0" fill="#ff0000"/><circle cx="197.22" cy="264.40" r="2.0" fill="#ff0000"/><circle cx="207.96" cy="262.80" r="2.0" fill="#ff0000"/><circle cx="218.69" cy="262.80" r="2.0" fill="#ff0000"/><circle cx="229.43" cy="262.75" r="2.0" fill="#ff0000"/><circle cx="240.16" cy="262.40" r="2.0" fill="#ff0000"/><circle cx="250.90" cy="260.40" r="2.0" fill="#ff0000"/><circle cx="261.64" cy="257.50" r="2.0" fill="#ff0000"/><circle cx="272.37" cy="253.50" r="2.0" fill="#ff0000"/><circle cx="283.11" cy="248.50" r="2.0" fill="#ff0000"/><circle cx="293.84" cy="246.80" r="2.0" fill="#ff0000"/><circle cx="304.58" cy="240.60" r="2.0" fill="#ff0000"/><circle cx="315.31" cy="236.50" r="2.0" fill="#ff0000"/><circle cx="326.05" cy="233.10" r="2.0" fill="#ff0000"/><circle cx="336.79" cy="230.10" r="2.0" fill="#ff0000"/><circle cx="347.52" cy="228.10" r="2.0" fill="#ff0000"/><circle cx="358.26" cy="225.90" r="2.0" fill="#ff0000"/><circle cx="368.99" cy="224.40" r="2.0" fill="#ff0000"/><circle cx="379.73" cy="223.50" r="2.0" fill="#ff0000"/><circle cx="390.46" cy="223.20" r="2.0" fill="#ff0000"/><circle cx="401.20" cy="223.30" r="2.0" fill="#ff0000"/>
<path d="M175.75,342.80L178.00,346.80L173.50,346.80z" fill="#000"/><path d="M186.49,272.50L188.74,276.50L184.24,276.50z" fill="#000"/><path d="M197.22,252.00L199.47,256.00L194.97,256.00z" fill="#000"/><path d="M207.96,248.40L210.21,252.40L205.71,252.40z" fill="#000"/><path d="M218.69,248.00L220.94,252.00L216.44,252.00z" fill="#000"/><path d="M229.43,248.20L231.68,252.20L227.18,252.20z" fill="#000"/><path d="M240.16,248.00L242.41,252.00L237.91,252.00z" fill="#000"/><path d="M250.90,248.70L253.15,252.70L248.65,252.70z" fill="#000"/><path d="M261.64,248.70L263.89,252.70L259.39,252.70z" fill="#000"/><path d="M272.37,247.20L274.62,251.20L270.12,251.20z" fill="#000"/><path d="M283.11,245.70L285.36,249.70L280.86,249.70z" fill="#000"/><path d="M293.84,243.60L296.09,247.60L291.59,247.60z" fill="#000"/><path d="M304.58,241.55L306.83,245.55L302.33,245.55z" fill="#000"/><path d="M315.31,239.70L317.56,243.70L313.06,243.70z" fill="#000"/><path d="M326.05,236.55L328.30,240.55L323.80,240.55z" fill="#000"/><path d="M336.79,232.80L339.04,236.80L334.54,236.80z" fill="#000"/><path d="M347.52,230.30L349.77,234.30L345.27,234.30z" fill="#000"/><path d="M358.26,228.70L360.51,232.70L356.01,232.70z" fill="#000"/><path d="M368.99,227.20L371.24,231.20L366.74,231.20z" fill="#000"/><path d="M379.73,226.00L381.98,230.00L377.48,230.00z" fill="#000"/><path d="M390.46,224.80L392.71,228.80L388.21,228.80z" fill="#000"/><path d="M401.20,224.30L403.45,228.30L398.95,228.30z" fill="#000"/>
<rect x="350.30" y="310.40" width="46.40" height="30.40" fill="#fff" stroke="#595959" stroke-width="0.9"/>
<path d="M359.00,315.57H368.60" stroke="#00b050" stroke-width="1"/>
<path d="M363.80,313.22l2.35,2.35l-2.35,2.35l-2.35,-2.35z" fill="#00b050"/>
<text class="lg" x="370.40" y="318.57">RT47</text>
<path d="M359.00,325.75H368.60" stroke="#ff0000" stroke-width="1"/>
<circle cx="363.80" cy="325.75" r="2.0" fill="#ff0000"/>
<text class="lg" x="370.40" y="328.75">RT52</text>
<path d="M359.00,335.94H368.60" stroke="#000000" stroke-width="1"/>
<path d="M363.80,333.74L366.05,337.74L361.55,337.74z" fill="#000"/>
<text class="lg" x="370.40" y="338.94">RT58</text>
</svg>
</body></html>
